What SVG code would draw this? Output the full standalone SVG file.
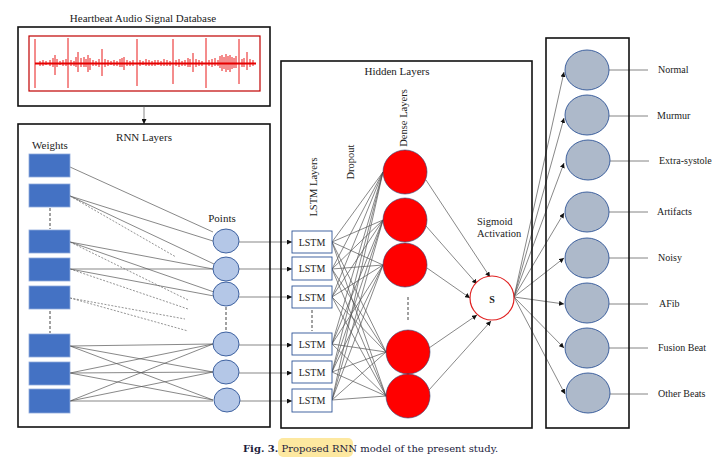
<svg xmlns="http://www.w3.org/2000/svg" width="718" height="460" viewBox="0 0 718 460">
<style>
text{font-family:"Liberation Serif","Times New Roman",serif;fill:#222;font-size:10px}
.t11{font-size:11px}
.t105{font-size:10.5px}
.box{fill:none;stroke:#111;stroke-width:1.6}
.w{fill:#4472c4;stroke:#8faadc;stroke-width:0.8}
.pt{fill:#b4c7e7;stroke:#2f5597;stroke-width:0.9}
.lstm{fill:#fff;stroke:#2f5597;stroke-width:0.9}
.dn{fill:#ff0000;stroke:#2f3f6f;stroke-width:0.6}
.out{fill:#adb9ca;stroke:#2f5597;stroke-width:0.9}
.c{stroke:#555;stroke-width:0.7;fill:none}
.cd{stroke:#666;stroke-width:0.7;fill:none;stroke-dasharray:2 1.5}
.ca{stroke:#555;stroke-width:0.7;fill:none;marker-end:url(#ah)}
.dash{stroke:#444;stroke-width:1;stroke-dasharray:3 2;fill:none}
.lbl{stroke:#666;stroke-width:0.8}
</style>
<defs>
<marker id="ah" viewBox="0 0 10 10" refX="10" refY="5" markerWidth="5" markerHeight="5" markerUnits="userSpaceOnUse" orient="auto">
<path d="M0,0 L10,5 L0,10 z" fill="#111"/>
</marker>
</defs>
<rect width="718" height="460" fill="#fff"/>

<g id="database">
<text class="t11" x="143" y="22" text-anchor="middle">Heartbeat Audio Signal Database</text>
<rect class="box" x="18" y="27" width="252" height="79"/>
<rect x="29" y="36" width="231" height="55" fill="none" stroke="#c00000" stroke-width="1.2"/>
<g stroke="#e60000" fill="none">
<line x1="35" y1="63.5" x2="256" y2="63.5" stroke-width="1.8"/>
<path stroke-width="0.9" d="M35,39V88 M68,38V88 M137,39V86 M173,39V84 M206,38V88 M239,39V84
M55,55V75 M78,52V72 M88,55V72 M90,58V70 M102,49V76 M124,57V70 M193,53V72 M247,52V70
M40,61v5 M43,60v6 M46,61v4 M50,60v6 M53,58v9 M57,59v8 M60,61v4 M63,60v6 M66,59v7 M71,60v6 M74,61v5 M76,57v10 M81,58v9 M84,57v10 M86,59v8 M93,60v6 M96,61v5 M99,59v8 M105,59v8 M108,60v6 M111,61v4 M114,60v6 M117,61v5 M120,59v8 M122,58v9 M127,60v6 M130,61v5 M133,60v6 M140,60v6 M143,61v4 M146,59v7 M149,60v6 M152,61v5 M155,60v6 M158,60v5 M161,61v5 M164,59v7 M167,60v6 M170,61v5 M176,60v6 M179,59v8 M182,61v5 M185,60v6 M188,58v9 M190,59v8 M196,59v8 M199,60v6 M202,61v5 M209,60v6 M212,59v8 M215,58v8 M218,60v6 M220,56v12 M222,55v16 M224,57v12 M226,54v18 M228,56v14 M230,55v17 M232,57v12 M234,58v10 M236,56v12 M242,59v8 M244,58v9 M250,59v8 M253,60v6"/>
</g>
</g>

<g id="connectors">
<line class="ca" x1="144" y1="106" x2="144" y2="124" stroke="#111" stroke-width="1.2"/>
<line class="c" x1="70" y1="167" x2="213" y2="232"/>
<line class="c" x1="70" y1="196" x2="213" y2="241"/>
<line class="c" x1="70" y1="196" x2="214" y2="264"/>
<line class="c" x1="70" y1="242" x2="213" y2="269"/>
<line class="c" x1="70" y1="242" x2="214" y2="292"/>
<line class="c" x1="70" y1="269" x2="213" y2="269"/>
<line class="c" x1="70" y1="269" x2="214" y2="296"/>
<line class="cd" x1="70" y1="196" x2="176" y2="257"/>
<line class="cd" x1="70" y1="242" x2="188" y2="300"/>
<line class="cd" x1="70" y1="269" x2="188" y2="309"/>
<line class="cd" x1="70" y1="298" x2="185" y2="319"/>
<line class="cd" x1="70" y1="298" x2="188" y2="331"/>
<line class="c" x1="70" y1="346" x2="213" y2="344"/>
<line class="c" x1="70" y1="346" x2="213" y2="372"/>
<line class="c" x1="70" y1="346" x2="213" y2="400"/>
<line class="c" x1="70" y1="373" x2="213" y2="344"/>
<line class="c" x1="70" y1="373" x2="213" y2="372"/>
<line class="c" x1="70" y1="373" x2="213" y2="400"/>
<line class="c" x1="70" y1="401" x2="213" y2="344"/>
<line class="c" x1="70" y1="401" x2="213" y2="372"/>
<line class="c" x1="70" y1="401" x2="213" y2="401"/>
<line class="ca" x1="239" y1="242" x2="292" y2="242"/>
<line class="ca" x1="239" y1="269" x2="292" y2="269"/>
<line class="ca" x1="239" y1="297" x2="292" y2="297"/>
<line class="ca" x1="239" y1="345" x2="292" y2="345"/>
<line class="ca" x1="239" y1="373" x2="292" y2="373"/>
<line class="ca" x1="239" y1="401" x2="292" y2="401"/>
<g class="c">
<path d="M332,242L383,172M332,242L383,220M332,242L383,265M332,242L386,352M332,242L386,396
M332,269L383,172M332,269L383,220M332,269L383,265M332,269L386,352M332,269L386,396
M332,297L383,172M332,297L383,220M332,297L383,265M332,297L386,352M332,297L386,396
M332,344L383,172M332,344L383,220M332,344L383,265M332,344L386,352M332,344L386,396
M332,372L383,172M332,372L383,220M332,372L383,265M332,372L386,352M332,372L386,396
M332,400L383,172M332,400L383,220M332,400L383,265M332,400L386,352M332,400L386,396"/>
</g>
<line class="ca" x1="426" y1="180" x2="490" y2="277"/>
<line class="ca" x1="426" y1="226" x2="477" y2="284"/>
<line class="ca" x1="427" y1="268" x2="470" y2="298"/>
<line class="ca" x1="429" y1="348" x2="477" y2="315"/>
<line class="ca" x1="429" y1="390" x2="491" y2="321"/>
<line class="ca" x1="514" y1="297" x2="564" y2="72"/>
<line class="ca" x1="514" y1="297" x2="564" y2="118"/>
<line class="ca" x1="514" y1="297" x2="564" y2="163"/>
<line class="ca" x1="514" y1="297" x2="564" y2="213"/>
<line class="ca" x1="514" y1="297" x2="564" y2="258"/>
<line class="ca" x1="514" y1="297" x2="564" y2="304"/>
<line class="ca" x1="514" y1="297" x2="564" y2="348"/>
<line class="ca" x1="514" y1="297" x2="565" y2="394"/>
<line class="lbl" x1="609" y1="70" x2="648" y2="70"/>
<line class="lbl" x1="609" y1="116" x2="648" y2="116"/>
<line class="lbl" x1="610" y1="161" x2="649" y2="161"/>
<line class="lbl" x1="609" y1="212" x2="648" y2="212"/>
<line class="lbl" x1="609" y1="258" x2="648" y2="258"/>
<line class="lbl" x1="609" y1="304" x2="648" y2="304"/>
<line class="lbl" x1="609" y1="348" x2="648" y2="348"/>
<line class="lbl" x1="609" y1="394" x2="648" y2="394"/>
</g>

<g id="rnn-layers">
<rect class="box" x="18" y="124" width="252" height="303"/>
<text class="t11" x="144" y="141" text-anchor="middle">RNN Layers</text>
<text class="t11" x="50" y="149" text-anchor="middle">Weights</text>
<rect class="w" x="29" y="154" width="41" height="23"/>
<rect class="w" x="29" y="184" width="41" height="23"/>
<rect class="w" x="29" y="230" width="41" height="23"/>
<rect class="w" x="29" y="258" width="41" height="23"/>
<rect class="w" x="29" y="286" width="41" height="23"/>
<rect class="w" x="29" y="334" width="41" height="23"/>
<rect class="w" x="29" y="362" width="41" height="23"/>
<rect class="w" x="29" y="389" width="41" height="24"/>
<line class="dash" x1="50" y1="208" x2="50" y2="229"/>
<line class="dash" x1="50" y1="311" x2="50" y2="333"/>
<text class="t11" x="222" y="222" text-anchor="middle">Points</text>
<ellipse class="pt" cx="226" cy="241" rx="13" ry="12"/>
<ellipse class="pt" cx="226" cy="269" rx="13" ry="12"/>
<ellipse class="pt" cx="226" cy="294" rx="13" ry="12"/>
<ellipse class="pt" cx="226" cy="344" rx="13" ry="12"/>
<ellipse class="pt" cx="226" cy="372" rx="13" ry="12"/>
<ellipse class="pt" cx="227" cy="400" rx="13" ry="12"/>
<line class="dash" x1="226" y1="307" x2="226" y2="331"/>
</g>

<g id="hidden-layers">
<rect class="box" x="281" y="61" width="251" height="367"/>
<text class="t11" x="397" y="75" text-anchor="middle">Hidden Layers</text>
<text class="t105" transform="translate(317,187) rotate(-90)" text-anchor="middle">LSTM Layers</text>
<text class="t105" transform="translate(354,162) rotate(-90)" text-anchor="middle">Dropout</text>
<text class="t105" transform="translate(407,118) rotate(-90)" text-anchor="middle">Dense Layers</text>
<g id="lstm">
<rect class="lstm" x="292" y="231" width="40" height="22"/>
<rect class="lstm" x="292" y="257" width="40" height="23"/>
<rect class="lstm" x="292" y="286" width="40" height="22"/>
<rect class="lstm" x="292" y="333" width="40" height="22"/>
<rect class="lstm" x="292" y="361" width="40" height="22"/>
<rect class="lstm" x="292" y="389" width="40" height="23"/>
<text x="312" y="246" text-anchor="middle">LSTM</text>
<text x="312" y="272" text-anchor="middle">LSTM</text>
<text x="312" y="301" text-anchor="middle">LSTM</text>
<text x="312" y="348" text-anchor="middle">LSTM</text>
<text x="312" y="376" text-anchor="middle">LSTM</text>
<text x="312" y="404" text-anchor="middle">LSTM</text>
<line class="dash" x1="312" y1="310" x2="312" y2="331"/>
</g>
<g id="dense">
<circle class="dn" cx="405" cy="172" r="22"/>
<circle class="dn" cx="405" cy="220" r="22"/>
<circle class="dn" cx="405" cy="265" r="22"/>
<circle class="dn" cx="408" cy="352" r="22"/>
<circle class="dn" cx="408" cy="396" r="22"/>
<line class="dash" x1="408" y1="297" x2="408" y2="322"/>
</g>
<g id="sigmoid">
<text class="t105" x="477" y="225">Sigmoid</text>
<text class="t105" x="477" y="237">Activation</text>
<circle cx="492" cy="298" r="22" fill="#fff" stroke="#e02020" stroke-width="1.2"/>
<text x="492" y="303" text-anchor="middle" font-weight="bold" font-size="14">S</text>
</g>
</g>

<g id="outputs">
<rect class="box" x="546" y="38" width="83" height="390"/>
<ellipse class="out" cx="587" cy="70" rx="22" ry="20"/>
<ellipse class="out" cx="587" cy="115" rx="22" ry="20"/>
<ellipse class="out" cx="588" cy="160" rx="22" ry="20"/>
<ellipse class="out" cx="587" cy="212" rx="22" ry="20"/>
<ellipse class="out" cx="587" cy="258" rx="22" ry="20"/>
<ellipse class="out" cx="587" cy="303" rx="22" ry="20"/>
<ellipse class="out" cx="587" cy="348" rx="22" ry="20"/>
<ellipse class="out" cx="588" cy="393" rx="22" ry="20"/>
<text x="658" y="73">Normal</text>
<text x="657" y="119">Murmur</text>
<text x="659" y="164">Extra-systole</text>
<text x="657" y="215">Artifacts</text>
<text x="658" y="261">Noisy</text>
<text x="659" y="307">AFib</text>
<text x="658" y="351">Fusion Beat</text>
<text x="658" y="397">Other Beats</text>
</g>

<g id="caption">
<rect x="278" y="438" width="75" height="19" rx="5" fill="#fde8a0"/>
<text x="243" y="452" font-size="10.2" style="font-family:'DejaVu Serif','Liberation Serif',serif;fill:#1c1c3c"><tspan font-weight="bold">Fig. 3.</tspan> Proposed RNN model of the present study.</text>
</g>
</svg>
